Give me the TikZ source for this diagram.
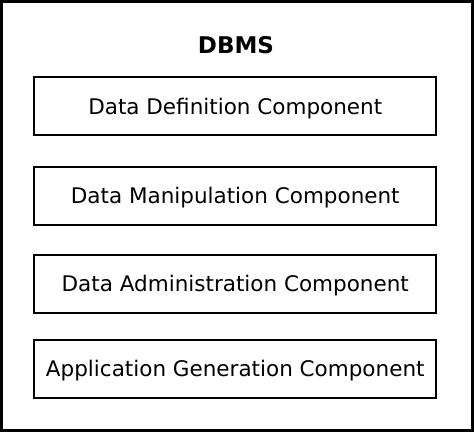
\documentclass[tikz,border=0pt]{standalone}
\usepackage{fontspec}
\setmainfont{DejaVu Sans}
\usetikzlibrary{positioning}
\tikzset{
  frame/.style={draw=black, line width=3pt},
  compbox/.style={draw=black, line width=2pt, minimum width=402pt, minimum height=58pt, inner sep=0pt, text depth=0pt, font=\fontsize{21.5}{24}\selectfont},
  titlelabel/.style={font=\fontsize{23}{26}\selectfont\bfseries}
}
\begin{document}
\begin{tikzpicture}[x=1pt, y=-1pt]
  \useasboundingbox (0,0) rectangle (474,432);
  \draw[frame] (1.5,1.5) rectangle (472.5,430);
  \node[titlelabel, anchor=base] (title) at (236,53.3) {DBMS};
  \node[compbox] (def) at (235.25,106) {Data Definition Component};
  \node[compbox] (man) at (235.25,195.5) {Data Manipulation Component};
  \node[compbox] (adm) at (235.25,283.5) {Data Administration Component};
  \node[compbox] (app) at (235.25,368.5) {Application Generation Component};
\end{tikzpicture}
\end{document}
